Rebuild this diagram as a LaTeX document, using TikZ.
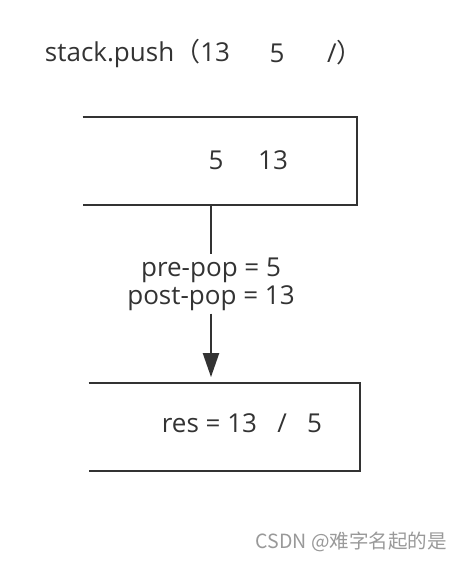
\documentclass[tikz,border=0pt]{standalone}
\usepackage{fontspec}
\setmainfont{Open Sans}
\newfontfamily\cjk{Noto Sans CJK SC}
\usetikzlibrary{arrows.meta, positioning}

\begin{document}
\begin{tikzpicture}[
  x=0.025cm, y=-0.025cm,
  every node/.style={font=\fontsize{18.5}{20}\selectfont, text=black!80},
  stackbox/.style={rectangle, inner sep=0pt, minimum width=6.85cm, minimum height=2.2cm},
  openbox/.style={line width=1.4pt, draw=black!80},
  edge/.style={line width=1.4pt, draw=black!80}
]
\useasboundingbox (0,0) rectangle (466,562);

% push line
\node[anchor=west] (push) at (40,53) {stack.push{\cjk （}13};
\node (pushb) at (277,53) {5};
\node (pushc) at (345,53) {/{\cjk ）}};

% stack box, open on the left
\node[stackbox] (stack) at (220,161) {};
\draw[openbox] (stack.north west) -- (stack.north east) -- (stack.south east) -- (stack.south west);
\node (top5) at (216,160) {5};
\node (top13) at (273,160) {13};

% result box
\node[stackbox, minimum width=6.775cm] (res) at (224.5,427) {};
\draw[openbox] (res.north west) -- (res.north east) -- (res.south east) -- (res.south west);
\node (resval) at (242,423) {res = 13 \ \ / \ \ 5};

% pop step
\node[align=center, inner sep=2pt] (pop) at (211,284) {pre-pop = 5\\post-pop = 13};
\draw[edge] (stack.south -| pop) -- (pop.north);
\draw[edge, -{Triangle[length=17pt, width=11.4pt]}, shorten >=4pt] (pop.south) -- (res.north -| pop);

% watermark
\node[anchor=east, font=\cjk\fontsize{13.9}{16}\selectfont, text=black!40] (mark) at (452,542) {CSDN @难字名起的是};

\end{tikzpicture}
\end{document}
